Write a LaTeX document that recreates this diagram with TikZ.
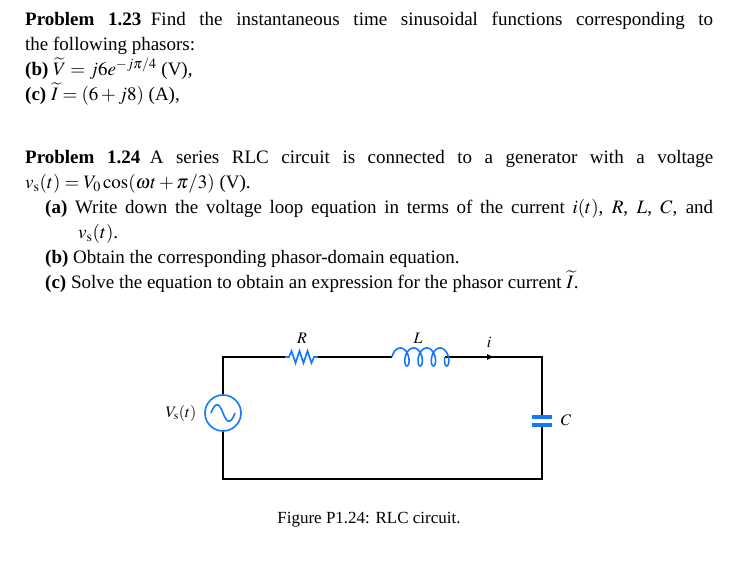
\documentclass[tikz,border=0pt]{standalone}
\usepackage{mathptmx}
\usepackage{fontspec}
\setmainfont{Liberation Serif}
\usetikzlibrary{arrows.meta}
\definecolor{cblue}{RGB}{20,120,250}
\tikzset{wire/.style={line width=1.6pt,black},comp/.style={line width=1.6pt,cblue},lbl/.style={font=\fontsize{16}{18}\selectfont}}
\begin{document}
\begin{tikzpicture}[x=1pt,y=-1pt]
\useasboundingbox (0,0) rectangle (740,583);
\fill[white] (0,0) rectangle (740,583);
\fontsize{19}{25}\selectfont
\node[anchor=north west,inner sep=0pt,text width=688pt,align=justify] (p1) at (25,12) {\textbf{Problem 1.23}\enspace Find the instantaneous time sinusoidal functions corresponding to\linebreak the following phasors:\par
\textbf{(b)} $\widetilde{V}=j6e^{-j\pi/4}$ (V),\par
\textbf{(c)} $\widetilde{I}=(6+j8)$ (A),\par};
\node[anchor=north west,inner sep=0pt,text width=688pt,align=justify] (p2) at (25,150) {\textbf{Problem 1.24}\enspace A series RLC circuit is connected to a generator with a voltage\linebreak $v_{\rm s}(t)=V_0\cos(\omega t+\pi/3)$ (V).\par
\leftskip=53pt\parindent=-33pt
\textbf{(a)} Write down the voltage loop equation in terms of the current $i(t)$, $R$, $L$, $C$, and\linebreak $v_{\rm s}(t)$.\par
\textbf{(b)} Obtain the corresponding phasor-domain equation.\par
\textbf{(c)} Solve the equation to obtain an expression for the phasor current $\widetilde{I}$.\par};
% circuit
\coordinate (tl) at (223,357); \coordinate (tr) at (542,357);
\coordinate (bl) at (223,479); \coordinate (br) at (542,479);
\coordinate (r1) at (285,357); \coordinate (r2) at (318,357);
\coordinate (l1) at (392,357); \coordinate (l2) at (445,357);
\coordinate (s1) at (223,395); \coordinate (s2) at (223,431);
\coordinate (c1) at (542,417); \coordinate (c2) at (542,425);
\draw[wire] (s1) -- (tl) -- (r1);
\draw[wire] (r2) -- (l1);
\draw[wire] (l2) -- (tr) -- (c1);
\draw[wire] (c2) -- (br) -- (bl) -- (s2);
\draw[wire,-{Latex[length=8pt,width=6pt]}] (l2) -- (495,357);
\draw[comp] (r1) -- ++(4,0) -- ++(2.5,-6) -- ++(4,12) -- ++(4,-12) -- ++(4,12) -- ++(4,-12) -- ++(4,12) -- ++(2.5,-6) -- (r2);
\draw[comp] plot[domain=-90:1350,samples=240,smooth] ({397+0.0368*(\x+90)+5*sin(\x)},{357-9*cos(\x)});
\node[comp,draw,circle,minimum size=36pt,inner sep=0pt] (src) at (223,413) {};
\draw[comp] (211,413) .. controls (215,402) and (219,402) .. (223,413) .. controls (227,424) and (231,424) .. (235,413);
\draw[comp,line width=4pt] (532,417) -- (552,417) (532,425) -- (552,425);
\node[lbl] (R) at (302,338) {$R$};
\node[lbl] (L) at (418,338) {$L$};
\node[lbl] (i) at (489,342) {$i$};
\node[lbl] (C) at (566,420) {$C$};
\node[lbl] (V) at (181,413) {$V_{\rm s}(t)$};
\node[font=\fontsize{17}{19}\selectfont] (cap) at (369,520) {Figure P1.24: RLC circuit.};
\end{tikzpicture}
\end{document}
